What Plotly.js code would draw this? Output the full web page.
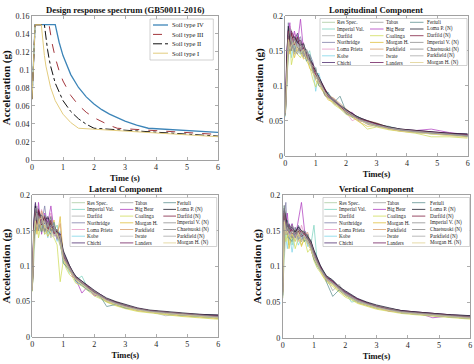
<!DOCTYPE html>
<html><head><meta charset="utf-8">
<script src="https://cdn.plot.ly/plotly-3.0.1.min.js"></script>
<style>html,body{margin:0;padding:0;background:#fff}#chart{width:474px;height:364px}</style>
</head><body><div id="chart"></div>
<script>
// ---------- Design response spectrum (GB50011-2016) ----------
const soilIV_T = [0,0.1,0.75,0.875,1.0,1.125,1.25,1.5,1.75,2.0,2.25,2.5,2.75,3.0,3.375,3.75,6];
const soilIV_A = [0.0675,0.15,0.15,0.1306,0.1158,0.1041,0.0947,0.0804,0.0700,0.0621,0.0558,0.0508,0.0466,0.0431,0.0387,0.0352,0.0307];
const soilIII_T = [0,0.1,0.55,0.65,0.75,0.875,1.0,1.25,1.5,1.75,2.0,2.25,2.5,2.75,6];
const soilIII_A = [0.0675,0.15,0.15,0.1291,0.1135,0.0988,0.0876,0.0716,0.0608,0.0529,0.0469,0.0422,0.0384,0.0352,0.0283];
const soilII_T = [0,0.1,0.4,0.45,0.5,0.55,0.6,0.75,0.9,1.0,1.25,1.5,1.75,2.0,6];
const soilII_A = [0.0675,0.15,0.15,0.1349,0.1227,0.1126,0.1041,0.0852,0.0723,0.0658,0.0538,0.0457,0.0397,0.0352,0.0265];
const soilI_T = [0,0.1,0.3,0.35,0.4,0.45,0.5,0.6,0.75,0.9,1.0,1.25,1.5,6];
const soilI_A = [0.0675,0.15,0.15,0.1306,0.1158,0.1041,0.0947,0.0804,0.0658,0.0558,0.0508,0.0415,0.0352,0.0258];
const soilNames = ['Soil type IV','Soil type III','Soil type II','Soil type I'];

// ---------- Record spectra ----------
const periods = [0,0.05,0.1,0.15,0.2,0.3,0.4,0.5,0.6,0.7,0.8,0.9,1.0,1.1,1.2,1.3,1.4,1.6,1.8,2.0,2.2,2.4,2.7,3.0,3.4,3.8,4.3,4.8,5.4,6.0];
const resSpec = [0.0675,0.109,0.15,0.15,0.15,0.15,0.15,0.15,0.15,0.15,0.1415,0.1273,0.1158,0.1063,0.0983,0.0914,0.0855,0.0759,0.0682,0.0621,0.0570,0.0527,0.0474,0.0431,0.0385,0.0351,0.0341,0.0331,0.0319,0.0307];
const recordNames = ['Res Spec.','Imperial Val.','Darfild','Northridge','Loma Prieta','Kobe','Chichi',
  'Tabas','Big Bear','Coalinga','Morgan H.','Parkfield','Iwate','Landers',
  'Feriuli','Loma P. (N)','Darfild (N)','Imperial V. (N)','Chaetsuoki (N)','Parkfield (N)','Morgan H. (N)'];
const recordColors = ['#a9c9a0','#7dd3bf','#b0b0b0','#7f7fa8','#e79ac8','#7fd6e8','#4f2f70',
  '#a0a0a0','#b040c0','#cfdc5a','#dfc040','#d8a070','#c0c0c0','#702060',
  '#5f9090','#1f2030','#802040','#909090','#888888','#a8a8a8','#e0d090'];

const longitudinal = [
 [0.062,0.130,0.172,0.148,0.168,0.155,0.172,0.148,0.160,0.142,0.150,0.128,0.118,0.112,0.098,0.095,0.085,0.080,0.072,0.063,0.060,0.052,0.049,0.045,0.039,0.036,0.035,0.032,0.030,0.028],
 [0.058,0.118,0.155,0.178,0.150,0.165,0.148,0.160,0.145,0.152,0.135,0.122,0.125,0.104,0.102,0.090,0.088,0.075,0.070,0.066,0.056,0.054,0.047,0.043,0.041,0.038,0.034,0.033,0.032,0.030],
 [0.060,0.125,0.190,0.160,0.175,0.150,0.165,0.170,0.150,0.140,0.145,0.135,0.115,0.108,0.100,0.092,0.086,0.079,0.068,0.065,0.059,0.051,0.049,0.046,0.040,0.037,0.036,0.034,0.031,0.030],
 [0.065,0.135,0.165,0.185,0.160,0.175,0.155,0.150,0.162,0.140,0.138,0.125,0.112,0.115,0.095,0.094,0.082,0.081,0.071,0.062,0.050,0.054,0.046,0.045,0.038,0.036,0.034,0.033,0.031,0.029],
 [0.055,0.110,0.150,0.170,0.140,0.160,0.150,0.145,0.155,0.150,0.130,0.130,0.092,0.118,0.104,0.088,0.090,0.077,0.073,0.060,0.058,0.055,0.048,0.042,0.040,0.038,0.035,0.031,0.030,0.027],
 [0.060,0.140,0.180,0.155,0.170,0.165,0.175,0.158,0.145,0.150,0.140,0.128,0.120,0.106,0.101,0.093,0.084,0.078,0.069,0.064,0.057,0.053,0.049,0.044,0.040,0.037,0.035,0.033,0.032,0.031],
 [0.058,0.120,0.160,0.150,0.180,0.150,0.160,0.162,0.140,0.148,0.142,0.118,0.122,0.110,0.097,0.091,0.089,0.074,0.072,0.066,0.058,0.052,0.047,0.046,0.041,0.036,0.034,0.032,0.030,0.028],
 [0.063,0.150,0.175,0.190,0.158,0.178,0.160,0.195,0.150,0.145,0.135,0.130,0.115,0.107,0.099,0.087,0.085,0.080,0.070,0.061,0.062,0.050,0.048,0.045,0.039,0.037,0.036,0.038,0.033,0.030],
 [0.057,0.115,0.145,0.165,0.130,0.150,0.145,0.140,0.150,0.135,0.128,0.110,0.098,0.112,0.096,0.086,0.083,0.073,0.067,0.059,0.055,0.050,0.038,0.041,0.037,0.035,0.032,0.027,0.027,0.025],
 [0.060,0.128,0.160,0.145,0.165,0.140,0.155,0.150,0.138,0.142,0.125,0.120,0.108,0.100,0.094,0.089,0.080,0.076,0.068,0.062,0.056,0.049,0.042,0.043,0.038,0.035,0.033,0.031,0.029,0.027],
 [0.062,0.132,0.168,0.158,0.172,0.160,0.150,0.155,0.148,0.138,0.140,0.126,0.117,0.103,0.103,0.092,0.087,0.082,0.074,0.067,0.060,0.053,0.050,0.047,0.040,0.036,0.034,0.033,0.031,0.029],
 [0.059,0.122,0.158,0.168,0.155,0.162,0.158,0.152,0.157,0.146,0.137,0.127,0.119,0.109,0.100,0.092,0.086,0.078,0.071,0.064,0.059,0.054,0.048,0.044,0.040,0.037,0.035,0.033,0.031,0.029],
 [0.061,0.138,0.172,0.160,0.178,0.168,0.162,0.165,0.152,0.148,0.138,0.132,0.121,0.112,0.103,0.096,0.088,0.079,0.072,0.065,0.060,0.055,0.050,0.045,0.041,0.038,0.036,0.034,0.032,0.030],
 [0.058,0.124,0.150,0.175,0.162,0.148,0.168,0.145,0.150,0.135,0.143,0.120,0.126,0.100,0.098,0.089,0.091,0.076,0.085,0.063,0.055,0.056,0.046,0.043,0.042,0.037,0.033,0.032,0.031,0.028],
 [0.062,0.145,0.185,0.165,0.168,0.170,0.162,0.158,0.160,0.147,0.139,0.130,0.122,0.111,0.102,0.095,0.088,0.080,0.072,0.066,0.060,0.055,0.050,0.046,0.041,0.038,0.036,0.034,0.032,0.031],
 [0.060,0.130,0.178,0.155,0.175,0.158,0.170,0.150,0.155,0.143,0.136,0.128,0.116,0.108,0.101,0.093,0.086,0.078,0.071,0.063,0.058,0.053,0.049,0.045,0.040,0.037,0.035,0.033,0.031,0.029],
 [0.057,0.118,0.162,0.150,0.160,0.152,0.145,0.160,0.142,0.150,0.132,0.124,0.110,0.113,0.097,0.090,0.084,0.077,0.069,0.061,0.057,0.051,0.047,0.043,0.039,0.036,0.034,0.032,0.030,0.028],
 [0.064,0.127,0.170,0.182,0.150,0.168,0.155,0.148,0.158,0.140,0.142,0.122,0.113,0.105,0.099,0.086,0.083,0.079,0.070,0.060,0.057,0.052,0.045,0.042,0.039,0.037,0.034,0.033,0.031,0.029],
 [0.059,0.121,0.155,0.163,0.170,0.145,0.160,0.153,0.146,0.152,0.131,0.129,0.124,0.106,0.100,0.091,0.087,0.080,0.073,0.064,0.058,0.052,0.048,0.044,0.040,0.037,0.035,0.033,0.031,0.028],
 [0.061,0.126,0.166,0.152,0.158,0.162,0.150,0.146,0.152,0.138,0.134,0.119,0.114,0.104,0.096,0.090,0.083,0.076,0.068,0.062,0.056,0.051,0.046,0.042,0.038,0.035,0.033,0.031,0.029,0.026]
];

const lateral = [
 [0.070,0.150,0.175,0.160,0.182,0.150,0.170,0.145,0.160,0.150,0.158,0.135,0.110,0.105,0.092,0.088,0.080,0.086,0.068,0.062,0.058,0.052,0.046,0.043,0.038,0.035,0.033,0.031,0.029,0.028],
 [0.065,0.140,0.160,0.185,0.150,0.175,0.145,0.165,0.140,0.155,0.145,0.148,0.115,0.098,0.094,0.090,0.083,0.076,0.070,0.060,0.055,0.050,0.047,0.042,0.039,0.036,0.030,0.032,0.030,0.027],
 [0.068,0.160,0.188,0.155,0.170,0.160,0.185,0.150,0.170,0.142,0.150,0.140,0.118,0.108,0.096,0.087,0.082,0.078,0.069,0.064,0.057,0.053,0.048,0.044,0.039,0.037,0.035,0.033,0.031,0.030],
 [0.072,0.145,0.170,0.178,0.160,0.180,0.155,0.160,0.175,0.150,0.140,0.145,0.112,0.102,0.098,0.086,0.084,0.075,0.071,0.063,0.058,0.051,0.047,0.043,0.038,0.036,0.034,0.032,0.030,0.028],
 [0.066,0.138,0.165,0.150,0.175,0.155,0.160,0.140,0.155,0.160,0.135,0.150,0.105,0.100,0.090,0.092,0.078,0.073,0.066,0.061,0.056,0.050,0.046,0.041,0.038,0.035,0.033,0.031,0.029,0.027],
 [0.070,0.165,0.190,0.170,0.165,0.172,0.160,0.168,0.150,0.158,0.148,0.142,0.120,0.110,0.100,0.091,0.085,0.077,0.070,0.064,0.059,0.054,0.049,0.045,0.040,0.037,0.035,0.033,0.032,0.031],
 [0.067,0.142,0.168,0.182,0.155,0.165,0.150,0.155,0.160,0.145,0.152,0.130,0.114,0.104,0.094,0.089,0.081,0.079,0.067,0.060,0.057,0.051,0.048,0.042,0.039,0.036,0.034,0.032,0.030,0.028],
 [0.069,0.155,0.180,0.150,0.190,0.145,0.175,0.160,0.185,0.150,0.138,0.146,0.116,0.106,0.099,0.085,0.082,0.062,0.072,0.058,0.060,0.053,0.047,0.044,0.040,0.037,0.035,0.033,0.031,0.029],
 [0.064,0.135,0.158,0.170,0.140,0.162,0.145,0.150,0.145,0.140,0.130,0.078,0.108,0.096,0.088,0.084,0.076,0.072,0.065,0.058,0.054,0.049,0.044,0.040,0.036,0.034,0.031,0.029,0.027,0.025],
 [0.066,0.140,0.162,0.145,0.168,0.150,0.158,0.142,0.150,0.165,0.140,0.170,0.110,0.101,0.093,0.087,0.080,0.075,0.068,0.061,0.056,0.050,0.045,0.041,0.037,0.035,0.032,0.030,0.028,0.026],
 [0.071,0.148,0.172,0.165,0.160,0.178,0.165,0.150,0.162,0.148,0.145,0.160,0.113,0.104,0.097,0.090,0.084,0.077,0.071,0.063,0.058,0.052,0.049,0.044,0.039,0.036,0.034,0.032,0.030,0.028],
 [0.068,0.146,0.170,0.162,0.172,0.160,0.162,0.155,0.158,0.150,0.146,0.138,0.115,0.105,0.097,0.089,0.083,0.076,0.069,0.063,0.058,0.053,0.048,0.044,0.039,0.036,0.034,0.032,0.030,0.029],
 [0.070,0.152,0.178,0.168,0.175,0.165,0.168,0.162,0.155,0.156,0.150,0.140,0.117,0.108,0.099,0.092,0.085,0.078,0.071,0.065,0.060,0.054,0.049,0.045,0.040,0.037,0.035,0.033,0.031,0.030],
 [0.065,0.138,0.150,0.176,0.160,0.148,0.172,0.152,0.145,0.162,0.142,0.134,0.104,0.099,0.095,0.091,0.079,0.073,0.066,0.062,0.057,0.043,0.046,0.041,0.040,0.036,0.033,0.031,0.029,0.027],
 [0.069,0.158,0.185,0.160,0.178,0.168,0.164,0.170,0.158,0.152,0.148,0.145,0.122,0.110,0.101,0.093,0.086,0.079,0.072,0.066,0.060,0.055,0.050,0.046,0.041,0.038,0.036,0.034,0.032,0.031],
 [0.067,0.150,0.176,0.156,0.180,0.158,0.170,0.150,0.165,0.146,0.150,0.138,0.114,0.106,0.097,0.090,0.083,0.077,0.070,0.063,0.058,0.053,0.048,0.044,0.040,0.037,0.035,0.033,0.031,0.029],
 [0.066,0.143,0.165,0.172,0.150,0.165,0.148,0.162,0.150,0.155,0.140,0.142,0.111,0.103,0.094,0.088,0.082,0.075,0.069,0.062,0.057,0.052,0.047,0.043,0.038,0.036,0.033,0.031,0.030,0.028],
 [0.071,0.150,0.182,0.165,0.168,0.172,0.150,0.158,0.170,0.148,0.152,0.136,0.118,0.107,0.098,0.091,0.084,0.076,0.070,0.064,0.059,0.054,0.048,0.045,0.040,0.037,0.035,0.033,0.031,0.029],
 [0.068,0.147,0.168,0.175,0.158,0.160,0.165,0.148,0.156,0.158,0.138,0.144,0.112,0.104,0.096,0.089,0.082,0.078,0.068,0.062,0.058,0.052,0.047,0.043,0.039,0.036,0.034,0.032,0.030,0.028],
 [0.066,0.144,0.164,0.155,0.162,0.170,0.155,0.152,0.148,0.143,0.146,0.132,0.109,0.102,0.093,0.087,0.081,0.074,0.067,0.061,0.056,0.051,0.046,0.042,0.038,0.035,0.033,0.031,0.029,0.027]
];

const vertical = [
 [0.060,0.185,0.150,0.140,0.160,0.130,0.150,0.140,0.148,0.135,0.142,0.130,0.158,0.108,0.100,0.090,0.086,0.080,0.066,0.063,0.050,0.052,0.047,0.045,0.040,0.037,0.035,0.033,0.031,0.029],
 [0.055,0.160,0.175,0.150,0.135,0.155,0.140,0.150,0.135,0.145,0.130,0.125,0.120,0.104,0.098,0.088,0.082,0.076,0.070,0.060,0.055,0.050,0.046,0.043,0.039,0.036,0.034,0.032,0.030,0.028],
 [0.065,0.170,0.190,0.145,0.150,0.160,0.145,0.158,0.150,0.140,0.138,0.132,0.115,0.110,0.099,0.092,0.085,0.078,0.069,0.064,0.057,0.053,0.049,0.044,0.040,0.037,0.035,0.033,0.031,0.030],
 [0.070,0.175,0.160,0.165,0.140,0.150,0.155,0.135,0.158,0.145,0.140,0.128,0.118,0.106,0.097,0.090,0.083,0.079,0.071,0.062,0.058,0.051,0.048,0.044,0.039,0.036,0.034,0.032,0.030,0.028],
 [0.058,0.155,0.140,0.125,0.150,0.120,0.145,0.130,0.140,0.150,0.128,0.135,0.112,0.100,0.095,0.087,0.080,0.075,0.067,0.060,0.054,0.050,0.046,0.042,0.038,0.036,0.033,0.031,0.029,0.027],
 [0.075,0.180,0.165,0.155,0.160,0.150,0.148,0.155,0.145,0.148,0.140,0.135,0.122,0.110,0.101,0.093,0.086,0.080,0.071,0.065,0.059,0.054,0.049,0.045,0.041,0.038,0.036,0.034,0.032,0.031],
 [0.062,0.165,0.150,0.160,0.145,0.140,0.150,0.145,0.135,0.150,0.132,0.138,0.114,0.105,0.096,0.089,0.084,0.066,0.075,0.061,0.057,0.051,0.047,0.043,0.039,0.036,0.034,0.032,0.030,0.028],
 [0.068,0.170,0.155,0.175,0.145,0.160,0.140,0.165,0.190,0.150,0.145,0.128,0.116,0.104,0.099,0.090,0.081,0.077,0.068,0.063,0.056,0.055,0.047,0.044,0.037,0.037,0.035,0.028,0.031,0.029],
 [0.056,0.150,0.135,0.145,0.130,0.148,0.125,0.140,0.130,0.138,0.120,0.126,0.108,0.098,0.092,0.084,0.078,0.072,0.064,0.057,0.053,0.048,0.044,0.040,0.037,0.034,0.032,0.030,0.028,0.026],
 [0.063,0.168,0.145,0.155,0.125,0.145,0.135,0.150,0.128,0.142,0.136,0.122,0.111,0.102,0.095,0.086,0.080,0.074,0.066,0.059,0.055,0.049,0.045,0.041,0.038,0.035,0.033,0.031,0.029,0.027],
 [0.066,0.172,0.158,0.148,0.155,0.145,0.152,0.142,0.150,0.144,0.148,0.130,0.117,0.106,0.098,0.091,0.085,0.078,0.070,0.063,0.058,0.053,0.048,0.044,0.040,0.037,0.035,0.033,0.031,0.029],
 [0.061,0.162,0.155,0.150,0.145,0.148,0.142,0.148,0.140,0.143,0.135,0.130,0.116,0.105,0.097,0.089,0.083,0.077,0.069,0.062,0.057,0.052,0.048,0.044,0.040,0.037,0.035,0.033,0.031,0.029],
 [0.072,0.178,0.162,0.150,0.158,0.145,0.150,0.152,0.148,0.146,0.140,0.134,0.120,0.109,0.100,0.092,0.085,0.079,0.071,0.064,0.059,0.054,0.049,0.045,0.041,0.038,0.036,0.034,0.032,0.030],
 [0.059,0.158,0.145,0.165,0.140,0.135,0.155,0.138,0.145,0.135,0.145,0.125,0.110,0.101,0.094,0.094,0.078,0.058,0.067,0.060,0.056,0.050,0.046,0.042,0.039,0.035,0.033,0.031,0.029,0.027],
 [0.080,0.182,0.168,0.158,0.152,0.155,0.148,0.156,0.150,0.148,0.142,0.136,0.123,0.111,0.102,0.094,0.087,0.081,0.072,0.066,0.060,0.055,0.050,0.046,0.042,0.038,0.036,0.034,0.032,0.031],
 [0.064,0.175,0.160,0.152,0.148,0.152,0.145,0.150,0.142,0.146,0.138,0.132,0.118,0.107,0.099,0.090,0.084,0.078,0.070,0.063,0.058,0.053,0.048,0.044,0.040,0.037,0.035,0.033,0.031,0.029],
 [0.060,0.160,0.150,0.145,0.152,0.140,0.148,0.145,0.138,0.140,0.134,0.128,0.114,0.104,0.096,0.088,0.082,0.076,0.068,0.061,0.056,0.051,0.047,0.043,0.039,0.036,0.034,0.032,0.030,0.028],
 [0.067,0.186,0.152,0.162,0.150,0.158,0.140,0.152,0.145,0.150,0.139,0.133,0.119,0.108,0.098,0.091,0.084,0.077,0.071,0.063,0.058,0.053,0.048,0.045,0.040,0.037,0.035,0.033,0.031,0.030],
 [0.062,0.165,0.148,0.155,0.140,0.150,0.146,0.138,0.148,0.142,0.137,0.127,0.116,0.105,0.097,0.089,0.083,0.077,0.069,0.062,0.057,0.052,0.047,0.043,0.039,0.036,0.034,0.032,0.030,0.028],
 [0.059,0.163,0.145,0.150,0.142,0.146,0.138,0.146,0.136,0.140,0.133,0.124,0.112,0.102,0.094,0.087,0.081,0.075,0.067,0.060,0.055,0.050,0.046,0.042,0.038,0.035,0.033,0.031,0.029,0.027]
];

// ---------- layout helpers (pixel positions of the 474x364 figure) ----------
const W = 474, H = 364;
const px = v => v / W, py = v => 1 - v / H;
const FONT = 'Liberation Serif';

const soilStyles = [
  {color:'#3d85b8', width:1.3, dash:'solid'},
  {color:'#a3363c', width:1.0, dash:'dash'},
  {color:'#111111', width:1.0, dash:'dashdot'},
  {color:'#e3cc7e', width:1.0, dash:'solid'}
];
const soilT = [soilIV_T, soilIII_T, soilII_T, soilI_T];
const soilA = [soilIV_A, soilIII_A, soilII_A, soilI_A];

const traces = [];
soilNames.forEach((n, i) => traces.push({
  x: soilT[i], y: soilA[i], name: n, type: 'scatter', mode: 'lines',
  line: soilStyles[i], xaxis: 'x', yaxis: 'y', showlegend: false
}));

const components = [longitudinal, lateral, vertical];
const compAxes = [['x2','y2'], ['x3','y3'], ['x4','y4']];
components.forEach((comp, ci) => {
  const series = [resSpec].concat(comp);
  series.forEach((vals, si) => traces.push({
    x: periods, y: vals, name: recordNames[si], type: 'scatter', mode: 'lines',
    line: {color: recordColors[si], width: 0.75},
    xaxis: compAxes[ci][0], yaxis: compAxes[ci][1], showlegend: false
  }));
});

function axis(domain, range, dtick, anchor, titleText, titleSize, standoff) {
  return {
    domain, range, dtick, tick0: 0, anchor,
    showline: true, mirror: 'ticks', linecolor: '#8a8a8a', linewidth: 0.8,
    ticks: 'inside', ticklen: 3, tickwidth: 0.7, tickcolor: '#8a8a8a',
    showgrid: false, zeroline: false,
    tickfont: {family: FONT, size: 8, color: '#262626'},
    title: {text: '<b>' + titleText + '</b>', font: {family: FONT, size: titleSize, color: '#111'}, standoff},
    fixedrange: true
  };
}

const layout = {
  width: W, height: H, autosize: false,
  margin: {l: 0, r: 0, t: 0, b: 0},
  paper_bgcolor: '#fff', plot_bgcolor: '#fff',
  showlegend: false,
  xaxis:  axis([px(32), px(218)], [0, 6], 1, 'y', 'Time (s)', 8.5, 3),
  yaxis:  axis([py(160), py(15.7)], [0, 0.16], 0.02, 'x', 'Acceleration (g)', 11, 2),
  xaxis2: axis([px(285.3), px(467.7)], [0, 6], 1, 'y2', 'Time(s)', 8.5, 3),
  yaxis2: axis([py(155.7), py(15.7)], [0, 0.2], 0.05, 'x2', 'Acceleration (g)', 11, 2),
  xaxis3: axis([px(32.3), px(218.3)], [0, 6], 1, 'y3', 'Time(s)', 8.5, 3),
  yaxis3: axis([py(337), py(195.3)], [0, 0.2], 0.05, 'x3', 'Acceleration (g)', 11, 2),
  xaxis4: axis([px(282.7), px(470.3)], [0, 6], 1, 'y4', 'Time(s)', 8.5, 3),
  yaxis4: axis([py(337.7), py(195.3)], [0, 0.2], 0.05, 'x4', 'Acceleration (g)', 11, 2),
  shapes: [], annotations: []
};

// subplot titles
const subTitles = [
  ['Design response spectrum (GB50011-2016)', 125, 10],
  ['Longitudinal Component', 376, 10],
  ['Lateral Component', 125, 189],
  ['Vertical Component', 376, 189]
];
subTitles.forEach(([t, x, y]) => layout.annotations.push({
  xref: 'paper', yref: 'paper', x: px(x), y: py(y), xanchor: 'center', yanchor: 'middle',
  text: '<b>' + t + '</b>', showarrow: false, font: {family: FONT, size: 8.7, color: '#111'}
}));

function addLegend(box, cols, row0, dy, perCol, labels, styles, fontSize) {
  layout.shapes.push({type: 'rect', xref: 'paper', yref: 'paper',
    x0: px(box[0]), x1: px(box[2]), y0: py(box[1]), y1: py(box[3]),
    fillcolor: '#ffffff', line: {color: '#b4b4b4', width: 0.6}, layer: 'above'});
  labels.forEach((lab, i) => {
    const c = Math.floor(i / perCol), r = i % perCol;
    const y = py(row0 + r * dy);
    layout.shapes.push({type: 'line', xref: 'paper', yref: 'paper',
      x0: px(cols[c][0]), x1: px(cols[c][1]), y0: y, y1: y, line: styles[i], layer: 'above'});
    layout.annotations.push({xref: 'paper', yref: 'paper', x: px(cols[c][2]), y: y,
      xanchor: 'left', yanchor: 'middle', text: lab, showarrow: false, borderpad: 0,
      font: {family: FONT, size: fontSize, color: '#222'}});
  });
}

addLegend([150, 19, 213.3, 60], [[153, 168, 171]], 25, 9.4, 4, soilNames, soilStyles, 6.5);
const recStyles = recordColors.map(c => ({color: c, width: 0.8}));
addLegend([320, 18.5, 467, 65.5], [[322, 335, 336], [370, 383.5, 384.5], [410, 423.5, 426]], 22.3, 6.7, 7, recordNames, recStyles, 5.2);
addLegend([70, 197.5, 216.7, 246.5], [[71.7, 85, 85.8], [120, 133.3, 134.2], [163.3, 176, 176]], 202.7, 6.7, 7, recordNames, recStyles, 5.2);
addLegend([323, 197.5, 469.7, 246.5], [[324.3, 337, 338], [373, 386, 386.3], [412, 425.3, 428.5]], 202.7, 6.7, 7, recordNames, recStyles, 5.2);

Plotly.newPlot('chart', traces, layout, {staticPlot: true, displayModeBar: false});
</script>
</body></html>
